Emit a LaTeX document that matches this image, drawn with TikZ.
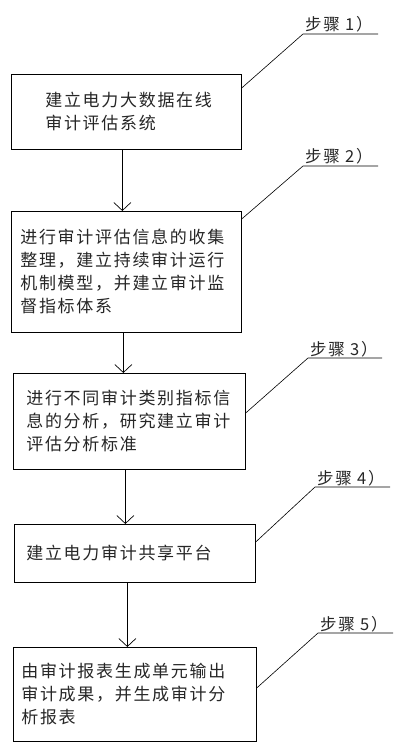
\documentclass[tikz,border=0pt]{standalone}
\usepackage{fontspec}
\setmainfont{Noto Sans CJK SC}[LetterSpace=10]
\usetikzlibrary{arrows.meta,calc}
\tikzset{
  box/.style={draw=black, line width=0.7pt, anchor=north west, align=left,
    font=\fontsize{17}{23}\selectfont, text=black!85, inner ysep=0pt},
  lbl/.style={anchor=base west, inner sep=0pt, font=\fontsize{16.5}{20}\selectfont, text=black!85},
  arr/.style={line width=0.7pt, -{Straight Barb[length=8pt,width=17pt]}},
  lead/.style={line width=0.6pt}
}
\begin{document}
\begin{tikzpicture}[x=1pt,y=-1pt]
\useasboundingbox (0,0) rectangle (400,751);
% boxes
\node[box, minimum width=230pt, minimum height=75pt, inner xsep=34pt, text width=162pt] (b1) at (11,74) {建立电力大数据在线\\审计评估系统};
\node[box, minimum width=230pt, minimum height=121pt, inner xsep=9pt, text width=212pt] (b2) at (11,211) {进行审计评估信息的收集\\整理，建立持续审计运行\\机制模型，并建立审计监\\督指标体系};
\node[box, minimum width=232pt, minimum height=96pt, inner xsep=13pt, text width=206pt] (b3) at (13,373) {进行不同审计类别指标信\\息的分析，研究建立审计\\评估分析标准};
\node[box, minimum width=241pt, minimum height=58pt, inner xsep=12pt, text width=217pt] (b4) at (14,524) {建立电力审计共享平台};
\node[box, minimum width=243pt, minimum height=94pt, inner xsep=8pt, text width=227pt] (b5) at (13,647) {由审计报表生成单元输出\\审计成果，并生成审计分\\析报表};
% arrows
\draw[arr] ([xshift=-4pt]b1.south) -- ([xshift=-4pt]b2.north);
\draw[arr] ([xshift=-3pt]b2.south) -- ([xshift=-6pt]b3.north);
\draw[arr] ([xshift=-4pt]b3.south) -- ([xshift=-9.5pt]b4.north);
\draw[arr] ([xshift=-7.5pt]b4.south) -- ([xshift=-7.5pt]b5.north);
% labels
\node[lbl] (l1) at (305,31) {步骤 1）};
\node[lbl] (l2) at (305,163) {步骤 2）};
\node[lbl] (l3) at (310,355) {步骤 3）};
\node[lbl] (l4) at (317,484) {步骤 4）};
\node[lbl] (l5) at (320,630) {步骤 5）};
\coordinate (u1a) at (303,34); \coordinate (u1b) at (378,34);
\coordinate (u2a) at (303,166); \coordinate (u2b) at (378,166);
\coordinate (u3a) at (308,358); \coordinate (u3b) at (382,358);
\coordinate (u4a) at (315,487); \coordinate (u4b) at (390,487);
\coordinate (u5a) at (318,633); \coordinate (u5b) at (393,633);
\draw[lead] ([yshift=-14pt]b1.north east) -- (u1a) -- (u1b);
\draw[lead] ([yshift=-8pt]b2.north east) -- (u2a) -- (u2b);
\draw[lead] ([yshift=-40pt]b3.north east) -- (u3a) -- (u3b);
\draw[lead] ([yshift=-18pt]b4.north east) -- (u4a) -- (u4b);
\draw[lead] ([yshift=-41pt]b5.north east) -- (u5a) -- (u5b);
\end{tikzpicture}
\end{document}
